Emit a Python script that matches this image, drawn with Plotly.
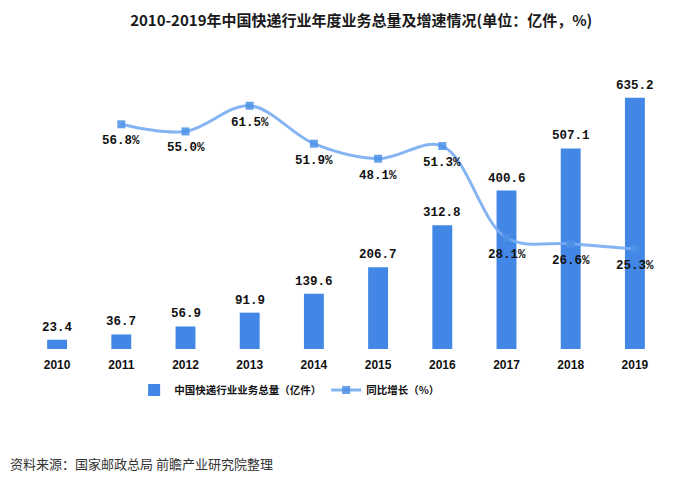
import plotly.graph_objects as go

years = ["2010", "2011", "2012", "2013", "2014", "2015", "2016", "2017", "2018", "2019"]
volume = [23.4, 36.7, 56.9, 91.9, 139.6, 206.7, 312.8, 400.6, 507.1, 635.2]
growth_years = ["2011", "2012", "2013", "2014", "2015", "2016", "2017", "2018", "2019"]
growth = [56.8, 55.0, 61.5, 51.9, 48.1, 51.3, 28.1, 26.6, 25.3]

label_font = dict(family="Liberation Mono", size=12.5, color="#111111", weight="bold")

fig = go.Figure()
fig.add_trace(go.Bar(
    x=years, y=volume, name="中国快递行业业务总量（亿件）",
    marker=dict(color="#4286e6", line=dict(width=0)),
    width=0.31,
))
fig.add_trace(go.Scatter(
    x=growth_years, y=growth, name="同比增长（%）", yaxis="y2",
    mode="lines+markers",
    line=dict(color="rgba(120,172,242,0.9)", width=3, shape="spline", smoothing=1.0),
    marker=dict(symbol="square", size=8, color="rgba(74,144,230,0.85)"),
))

for i, v in enumerate(volume):
    fig.add_annotation(x=i, y=v, text=f"{v:.1f}", showarrow=False, yanchor="bottom",
                       yshift=3, font=label_font)

for i, v in enumerate(growth):
    fig.add_annotation(x=i + 1, y=v, yref="y2", text=f"{v:.1f}%", showarrow=False,
                       yanchor="middle", yshift=-17, font=label_font)

fig.add_annotation(x=-0.026, y=-0.4275, xref="paper", yref="paper", xanchor="left", yanchor="middle",
                   text="资料来源：国家邮政总局 前瞻产业研究院整理", showarrow=False,
                   font=dict(family="Noto Sans CJK SC", size=13, color="#333333"))
fig.update_layout(
    width=700, height=485,
    margin=dict(l=25, r=33, t=80, b=136),
    paper_bgcolor="white", plot_bgcolor="white",
    title=dict(text="<b>2010-2019年中国快递行业年度业务总量及增速情况(单位：亿件，%)</b>",
               x=0.516, xanchor="center", y=0.957, yanchor="middle",
               font=dict(family="Noto Sans CJK SC", size=15, color="#1a1a1a")),
    xaxis=dict(type="category", range=[-0.5, 9.5], showline=False, showgrid=False, ticks="",
               ticklabelstandoff=7,
               tickfont=dict(family="Liberation Sans", size=12, color="#111111", weight="bold")),
    yaxis=dict(range=[0, 680], visible=False, showgrid=False),
    yaxis2=dict(range=[0, 68], overlaying="y", side="right", visible=False, showgrid=False),
    showlegend=True,
    legend=dict(orientation="h", x=0.17, y=-0.152, xanchor="left", yanchor="middle",
                font=dict(family="Noto Sans CJK SC", size=10.5, color="#111111", weight="bold"),
                itemwidth=30),
)
fig.write_html("out.html")
